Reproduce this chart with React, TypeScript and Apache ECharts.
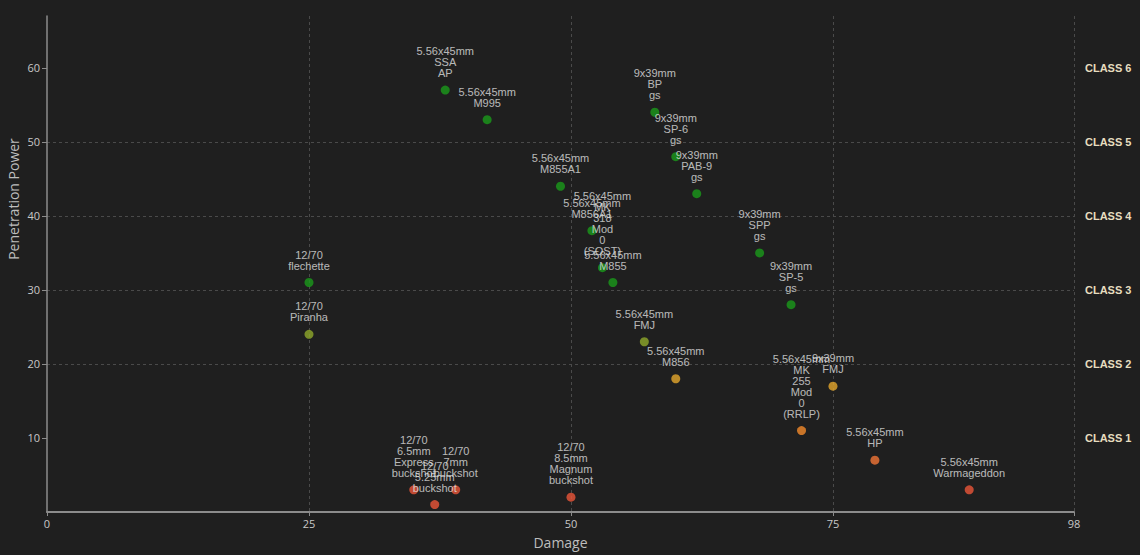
import React, { useEffect, useRef } from "react";
import * as echarts from "echarts";

// Ammunition: name, damage, penetration power
const ammoNames = [
  "12/70 flechette",
  "12/70 Piranha",
  "5.56x45mm SSA AP",
  "5.56x45mm M995",
  "5.56x45mm M855A1",
  "5.56x45mm M856A1",
  "5.56x45mm MK 318 Mod 0 (SOST)",
  "5.56x45mm M855",
  "5.56x45mm FMJ",
  "5.56x45mm M856",
  "5.56x45mm MK 255 Mod 0 (RRLP)",
  "5.56x45mm HP",
  "5.56x45mm Warmageddon",
  "9x39mm BP gs",
  "9x39mm SP-6 gs",
  "9x39mm PAB-9 gs",
  "9x39mm SPP gs",
  "9x39mm SP-5 gs",
  "9x39mm FMJ",
  "12/70 6.5mm Express buckshot",
  "12/70 5.25mm buckshot",
  "12/70 7mm buckshot",
  "12/70 8.5mm Magnum buckshot",
];
const damage = [25, 25, 38, 42, 49, 52, 53, 54, 57, 60, 72, 79, 88, 58, 60, 62, 68, 71, 75, 35, 37, 39, 50];
const penetration = [31, 24, 57, 53, 44, 38, 33, 31, 23, 18, 11, 7, 3, 54, 48, 43, 35, 28, 17, 3, 1, 3, 2];

const damageTicks = [0, 25, 50, 75, 98];
const penetrationTicks = [10, 20, 30, 40, 50, 60];
const armorClasses = ["CLASS 1", "CLASS 2", "CLASS 3", "CLASS 4", "CLASS 5", "CLASS 6"];

const DAMAGE_MAX = 98;
const PEN_MAX = 67;

function penColor(p: number): string {
  if (p >= 25) return "#1a9a1a";
  if (p >= 20) return "#8fa82a";
  if (p >= 15) return "#e3a62c";
  if (p >= 10) return "#f28a2a";
  if (p >= 5) return "#f07436";
  return "#ea5538";
}

const gridColor = "#4a4a4a";
const axisColor = "#8c8c8c";
const tickFont = "'Open Sans', 'Noto Sans', sans-serif";

export default function App() {
  const ref = useRef<HTMLDivElement>(null);

  useEffect(() => {
    if (!ref.current) return;
    const chart = echarts.init(ref.current, null, { renderer: "svg" });

    const points = ammoNames.map((name, i) => ({
      name,
      value: [damage[i], penetration[i]],
      itemStyle: { color: penColor(penetration[i]) },
    }));

    chart.setOption({
      animation: false,
      backgroundColor: "#1f1f1f",
      grid: { left: 47, right: 66, top: 16, bottom: 43, containLabel: false },
      xAxis: {
        type: "value",
        min: 0,
        max: DAMAGE_MAX,
        interval: 25,
        name: "Damage",
        nameLocation: "middle",
        nameGap: 23,
        nameTextStyle: { color: "#bdbdbd", fontSize: 14, fontFamily: tickFont },
        axisLine: { show: true, onZero: false, lineStyle: { color: axisColor, width: 2 } },
        axisTick: { show: true, length: 4, lineStyle: { color: axisColor }, customValues: damageTicks },
        axisLabel: {
          color: "#c8c8c8",
          fontSize: 11,
          fontFamily: tickFont,
          margin: 6,
          customValues: damageTicks,
        },
        splitLine: {
          show: true,
          showMinLine: false,
          lineStyle: { color: gridColor, type: [3, 3], width: 1 },
        },
      },
      yAxis: [
        {
          type: "value",
          min: 0,
          max: PEN_MAX,
          interval: 10,
          position: "left",
          axisLine: { show: true, onZero: false, lineStyle: { color: axisColor, width: 1.5 } },
          axisTick: { show: true, length: 5, lineStyle: { color: axisColor }, customValues: penetrationTicks },
          axisLabel: {
            color: "#c8c8c8",
            fontSize: 11,
            fontFamily: tickFont,
            margin: 7,
            customValues: penetrationTicks,
          },
          splitLine: {
            show: true,
            showMinLine: false,
            showMaxLine: false,
            lineStyle: { color: gridColor, type: [3, 3], width: 1 },
          },
        },
        {
          type: "value",
          min: 0,
          max: PEN_MAX,
          interval: 10,
          position: "right",
          axisLine: { show: false },
          axisTick: { show: false },
          splitLine: { show: false },
          axisLabel: {
            color: "#e6ddbf",
            fontSize: 11,
            fontWeight: "bold",
            fontFamily: "Arial, 'Liberation Sans', sans-serif",
            margin: 11,
            customValues: penetrationTicks,
            formatter: (v: number) => armorClasses[Math.round(v / 10) - 1] ?? "",
          },
        },
      ],
      graphic: [
        {
          type: "text",
          x: 13,
          y: 199,
          rotation: Math.PI / 2,
          style: {
            text: "Penetration Power",
            fill: "#bdbdbd",
            fontSize: 14,
            fontFamily: tickFont,
            align: "center",
            verticalAlign: "middle",
          },
        },
      ],
      series: [
        {
          type: "scatter",
          yAxisIndex: 0,
          symbol: "circle",
          symbolSize: 9,
          data: points,
          label: {
            show: true,
            position: "top",
            distance: 7,
            formatter: (p: any) => String(p.name).split(" ").join("\n"),
            color: "#e2e2e2",
            fontSize: 11,
            lineHeight: 11,
            fontFamily: "Arial, 'Liberation Sans', sans-serif",
            align: "center",
          },
          labelLayout: { hideOverlap: false },
          emphasis: { disabled: true },
        },
      ],
    });

    return () => chart.dispose();
  }, []);

  return (
    <div
      ref={ref}
      style={{ position: "fixed", left: 0, top: 0, width: 1140, height: 555 }}
    />
  );
}
